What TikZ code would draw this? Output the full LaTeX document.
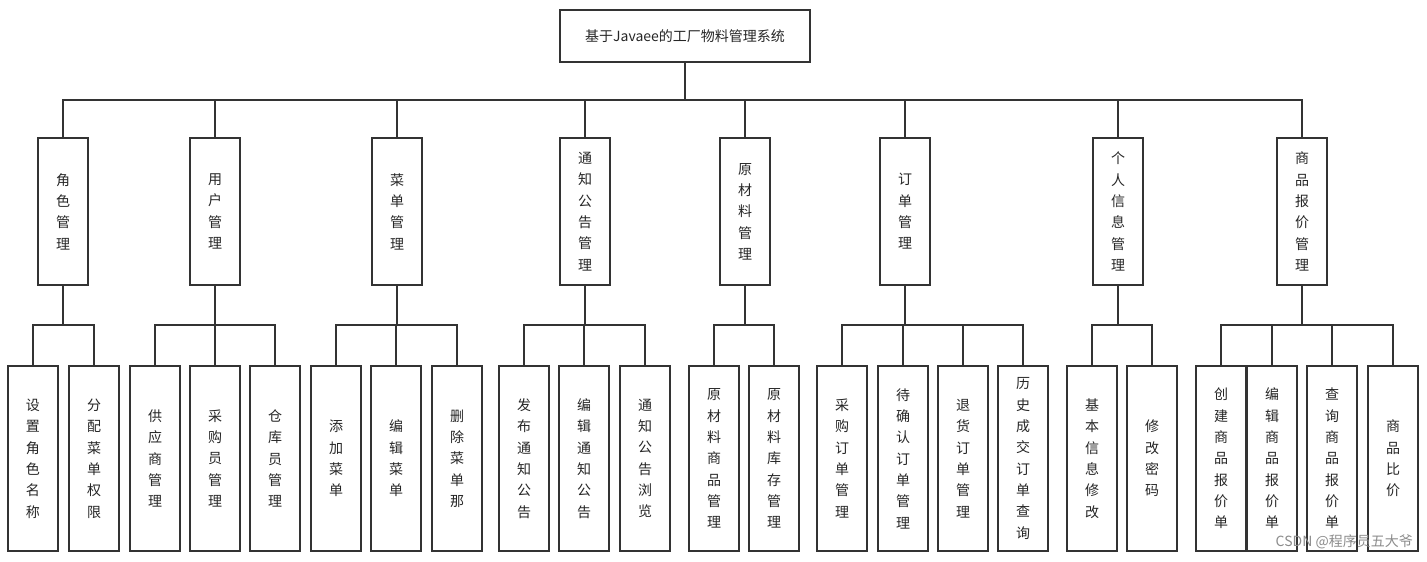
\documentclass[tikz,border=0pt]{standalone}
\usepackage{fontspec}
\setmainfont{Noto Sans CJK SC}
\begin{document}
\begin{tikzpicture}[x=0.75pt,y=-0.75pt,
  bx/.style={draw=black!80,line width=1.5pt,fill=white,inner sep=0pt,font=\fontsize{10.5}{16}\selectfont,align=center,text=black!85},
  mid/.style={bx,minimum width=37.5pt,minimum height=110pt},
  leaf/.style={bx,minimum width=37.5pt,minimum height=139pt},
  ln/.style={draw=black!80,line width=1.5pt}]
\useasboundingbox (0,0) rectangle (1427,561);
\coordinate (b1) at (0,100);
\coordinate (b2) at (0,325);
\node[bx,minimum width=187.5pt,minimum height=39pt] (root) at (685,36) {基于Javaee的工厂物料管理系统};
\foreach \n/\x/\t in {m1/63/角\\色\\管\\理, m2/215/用\\户\\管\\理, m3/397/菜\\单\\管\\理, m4/585/通\\知\\公\\告\\管\\理, m5/745/原\\材\\料\\管\\理, m6/905/订\\单\\管\\理, m7/1118/个\\人\\信\\息\\管\\理, m8/1302/商\\品\\报\\价\\管\\理}
  {\node[mid] (\n) at (\x,211.5) {\t};
   \draw[ln] (root.south) -- (root.south |- b1) -| (\n.north);}
\foreach \n/\p/\x/\t in {
 l1/m1/33/设\\置\\角\\色\\名\\称, l2/m1/94/分\\配\\菜\\单\\权\\限,
 l3/m2/155/供\\应\\商\\管\\理, l4/m2/215/采\\购\\员\\管\\理, l5/m2/275/仓\\库\\员\\管\\理,
 l6/m3/336/添\\加\\菜\\单, l7/m3/396/编\\辑\\菜\\单, l8/m3/457/删\\除\\菜\\单\\那,
 l9/m4/524/发\\布\\通\\知\\公\\告, l10/m4/584/编\\辑\\通\\知\\公\\告, l11/m4/645/通\\知\\公\\告\\浏\\览,
 l12/m5/714/原\\材\\料\\商\\品\\管\\理, l13/m5/774/原\\材\\料\\库\\存\\管\\理,
 l14/m6/842/采\\购\\订\\单\\管\\理, l15/m6/903/待\\确\\认\\订\\单\\管\\理, l16/m6/963/退\\货\\订\\单\\管\\理, l17/m6/1023/历\\史\\成\\交\\订\\单\\查\\询,
 l18/m7/1092/基\\本\\信\\息\\修\\改, l19/m7/1152/修\\改\\密\\码,
 l20/m8/1221/创\\建\\商\\品\\报\\价\\单, l21/m8/1272/编\\辑\\商\\品\\报\\价\\单, l22/m8/1332/查\\询\\商\\品\\报\\价\\单, l23/m8/1393/商\\品\\比\\价}
  {\node[leaf] (\n) at (\x,458.5) {\t};
   \draw[ln] (\p.south) -- (\p.south |- b2) -| (\n.north);}
\node[text=black!45,font=\fontsize{10.5}{12}\selectfont,anchor=east,inner sep=0pt] (wm) at (1413,542) {CSDN @程序员五大爷};
\end{tikzpicture}
\end{document}
